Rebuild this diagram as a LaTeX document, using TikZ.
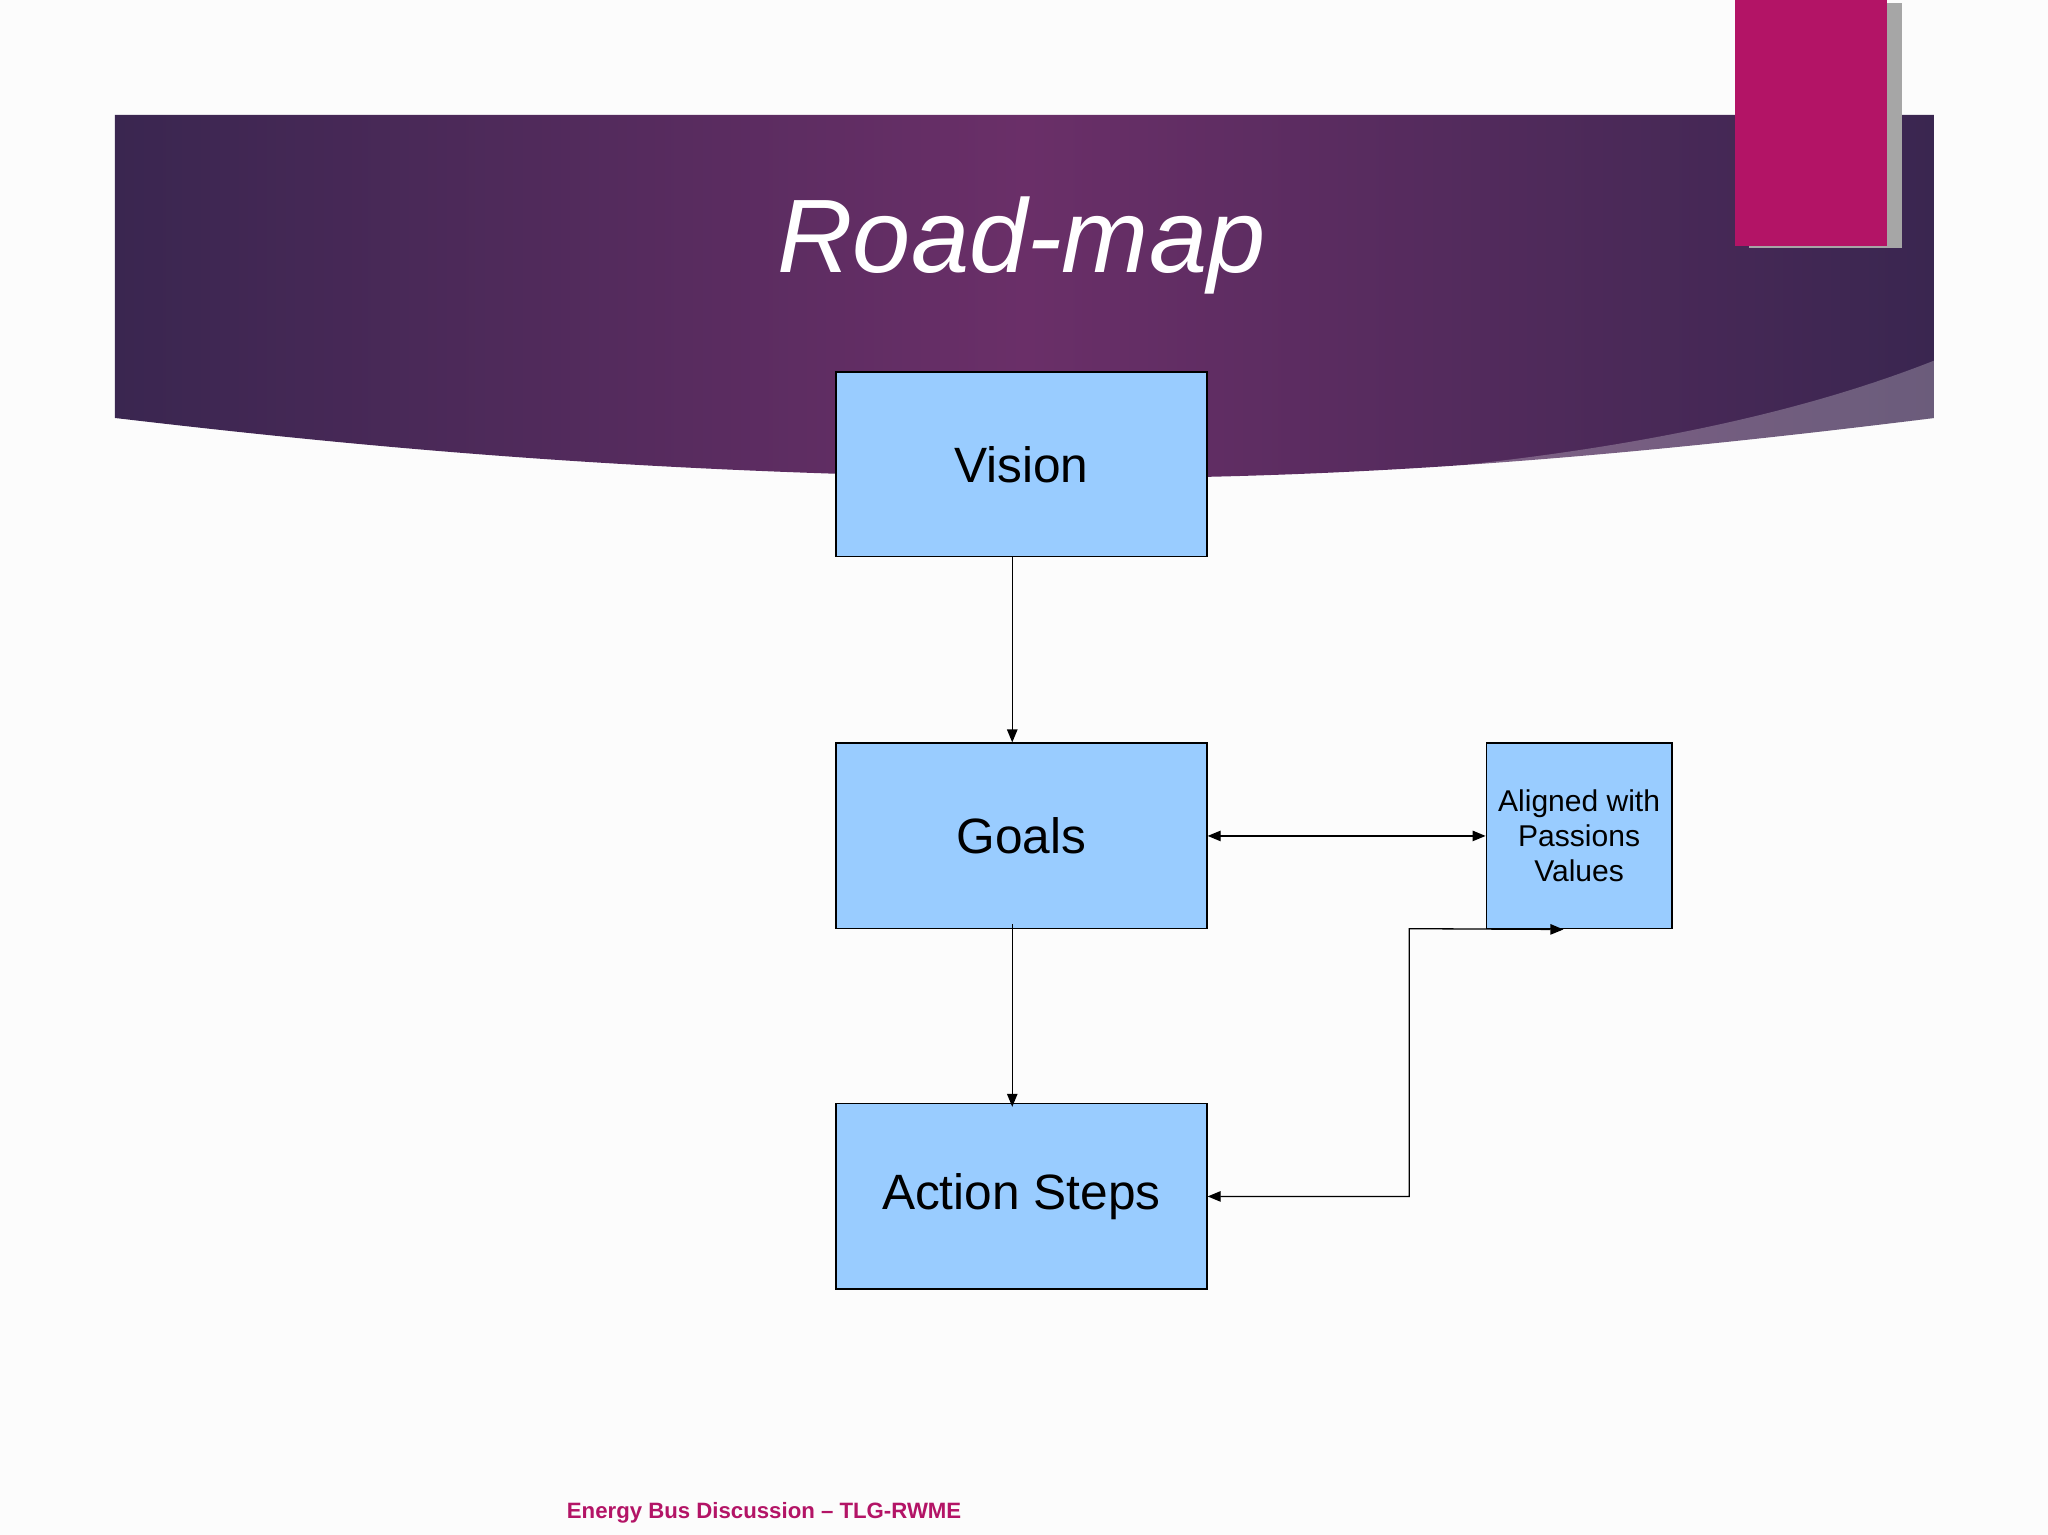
\documentclass[tikz,border=0pt]{standalone}
\usepackage{fontspec}
\setmainfont{Liberation Sans}
\usetikzlibrary{calc,arrows.meta}
\definecolor{boxblue}{HTML}{99CCFF}
\definecolor{mag}{HTML}{B31466}
\definecolor{pdark}{HTML}{3A2650}
\definecolor{pmid}{HTML}{6A2F68}
\begin{document}
\begin{tikzpicture}[x=0.5pt,y=-0.5pt,
  box/.style={draw=black,line width=0.6pt,fill=boxblue,inner sep=0pt,font=\fontsize{19}{22}\selectfont},
  conn/.style={line width=0.5pt,-{Triangle[length=5pt,width=4pt]}}]
\useasboundingbox (0,0) rectangle (1568,1175);
\fill[white!98!gray] (0,0) rectangle (1568,1175);
% banner
\shade[left color=pdark,right color=pdark,middle color=pmid]
  (88,88) -- (1481,88) -- (1481,320) .. controls (1200,355) and (1000,368) .. (782,366)
  .. controls (500,362) and (300,345) .. (88,320) -- cycle;
\fill[white,opacity=0.25] (1080,360) .. controls (1300,340) and (1420,300) .. (1481,276) -- (1481,320) .. controls (1300,345) and (1200,355) .. (1080,360) -- cycle;
% magenta tab
\fill[gray!70] (1339,2) rectangle (1456,190);
\fill[mag] (1328,0) rectangle (1445,188);
\node[text=white,font=\itshape\fontsize{40}{44}\selectfont] (title) at (782,188) {Road-map};
% boxes
\node[box,minimum width=142pt,minimum height=70.5pt] (vision) at (782,355.5) {Vision};
\node[box,minimum width=142pt,minimum height=71pt] (goals) at (782,640) {Goals};
\node[box,minimum width=142pt,minimum height=71pt] (action) at (782,916) {Action Steps};
\node[box,minimum width=71pt,minimum height=71pt,align=center,font=\fontsize{11.5}{13.5}\selectfont] (aligned) at (1209,640) {Aligned with\\Passions\\Values};
% connectors
\draw[conn] ($(vision.south)+(-7,0)$) -- ($(goals.north)+(-7,0)$);
\draw[conn] ($(goals.south)+(-7,-4)$) -- ($(action.north)+(-7,3)$);
\draw[conn,{Triangle[length=5pt,width=4pt]}-{Triangle[length=5pt,width=4pt]}] (goals.east) -- (aligned.west);
\coordinate (al) at ($(aligned.south)+(-12,0)$);
\draw[conn,{Triangle[length=5pt,width=4pt]}-{Triangle[length=5pt,width=4pt]}] (action.east) -- (1079,916) -- (1079,711) -- ($(aligned.south)+(-12,0)$);
\node[text=mag,font=\bfseries\fontsize{8.5}{10}\selectfont] (foot) at (585,1158) {Energy Bus Discussion – TLG-RWME};
\end{tikzpicture}
\end{document}
